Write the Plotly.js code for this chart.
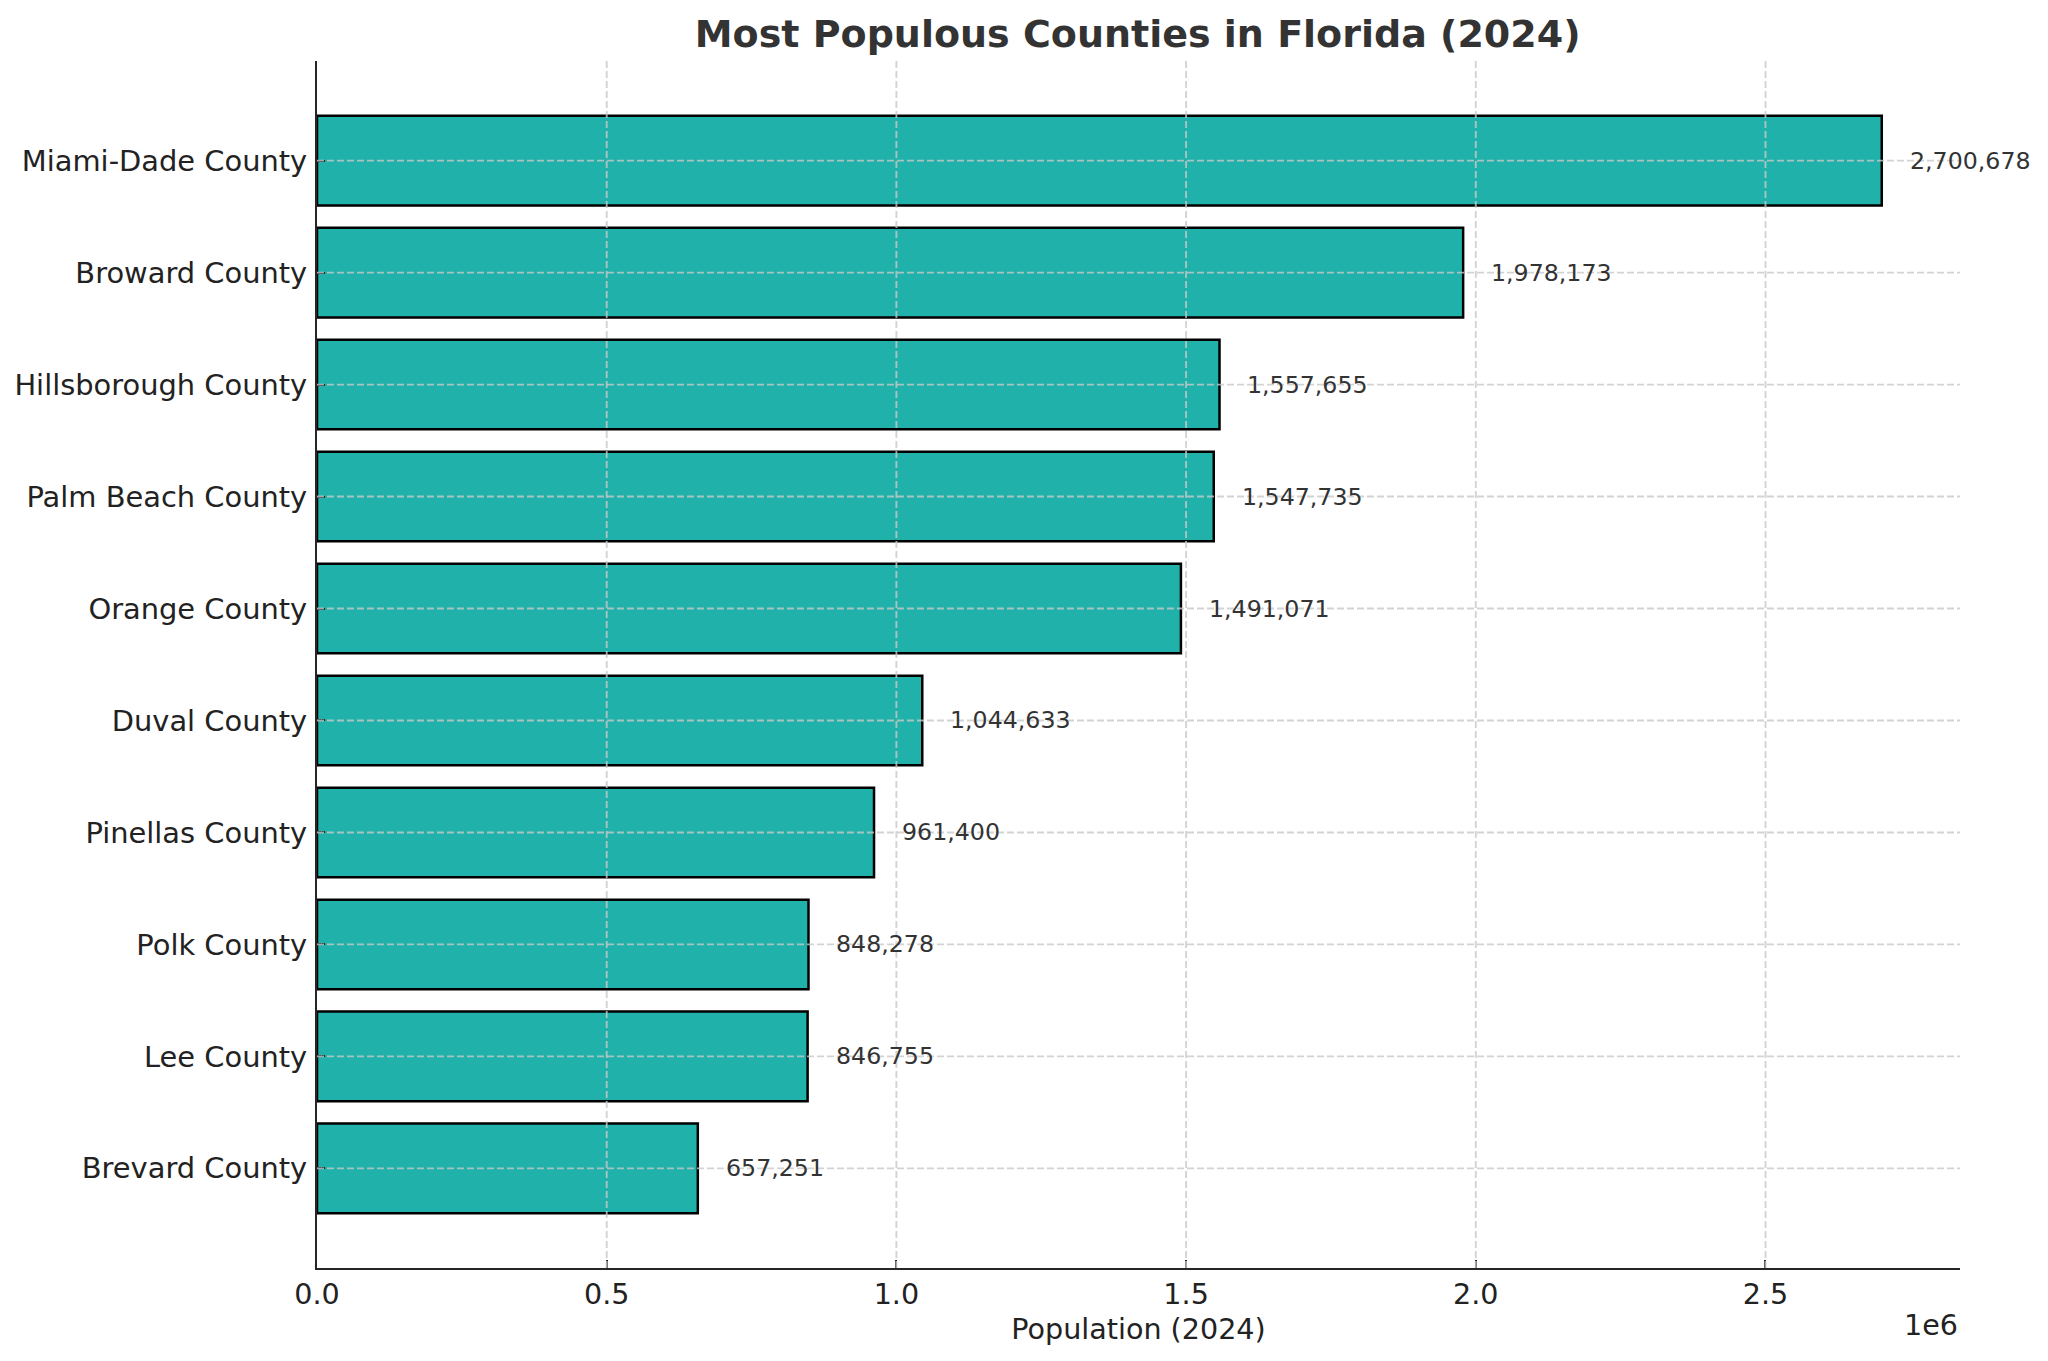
<!DOCTYPE html>
<html>
<head>
<meta charset="utf-8">
<script src="https://cdn.plot.ly/plotly-3.0.1.min.js"></script>
<style>html,body{margin:0;padding:0;background:#fff;}#chart{width:2048px;height:1361px;}</style>
</head>
<body>
<div id="chart"></div>
<script>
// Data
const counties = ["Miami-Dade County","Broward County","Hillsborough County","Palm Beach County","Orange County","Duval County","Pinellas County","Polk County","Lee County","Brevard County"];
const population = [2700678,1978173,1557655,1547735,1491071,1044633,961400,848278,846755,657251];
const xTickVals = [0,500000,1000000,1500000,2000000,2500000];
const xTickText = ["0.0","0.5","1.0","1.5","2.0","2.5"];
const titleText = "Most Populous Counties in Florida (2024)";
const xTitleText = "Population (2024)";
const offsetText = "1e6";

const FONT = "DejaVu Sans, Verdana, sans-serif";
const labelOffset = 50000;
const xMax = Math.max(...population) * 1.05;
const n = counties.length;

const trace = {
  type: 'bar',
  orientation: 'h',
  x: population,
  y: counties,
  width: 0.8,
  marker: {color: '#20B2AA', line: {color: '#000000', width: 2.5}},
  hoverinfo: 'x+y'
};

const gridColor = 'rgba(200,200,200,0.8)';
const gridStyle = {color: gridColor, width: 1.9, dash: '7px,3px'};
const shapes = [];
xTickVals.forEach(v => {
  if (v === 0) return;
  shapes.push({type:'line', xref:'x', yref:'paper', x0:v, x1:v, y0:0, y1:1, layer:'above', line: gridStyle});
});
counties.forEach(c => {
  shapes.push({type:'line', xref:'paper', yref:'y', x0:0, x1:1, y0:c, y1:c, layer:'above', line: gridStyle});
});

const annotations = counties.map((c, i) => ({
  x: population[i] + labelOffset,
  y: c,
  xref: 'x', yref: 'y',
  text: population[i].toLocaleString('en-US'),
  showarrow: false,
  xanchor: 'left', yanchor: 'middle',
  xshift: -3,
  font: {family: FONT, size: 23.7, color: '#333333'}
}));
annotations.push({
  x: 1, y: 0, xref: 'paper', yref: 'paper',
  xanchor: 'right', yanchor: 'middle', yshift: -57,
  text: offsetText, showarrow: false,
  font: {family: FONT, size: 28.6, color: '#222222'}
});

const layout = {
  width: 2048, height: 1361,
  margin: {l: 317, r: 88, t: 61, b: 93, pad: 0},
  paper_bgcolor: '#ffffff', plot_bgcolor: '#ffffff',
  showlegend: false,
  bargap: 0.2,
  title: {
    text: '<b>' + titleText + '</b>',
    x: 0.5555, xanchor: 'center', y: 1 - 34/1361, yanchor: 'middle',
    font: {family: FONT, size: 38, color: '#333333'}
  },
  xaxis: {
    range: [0, xMax],
    tickvals: xTickVals, ticktext: xTickText,
    showgrid: false, zeroline: false,
    showline: true, linecolor: '#262626', linewidth: 2,
    ticks: 'inside', ticklen: 8, tickwidth: 2, tickcolor: '#262626',
    tickfont: {family: FONT, size: 28.6, color: '#222222'},
    title: {text: xTitleText, standoff: 9, font: {family: FONT, size: 28.6, color: '#222222'}},
    fixedrange: true
  },
  yaxis: {
    type: 'category',
    range: [n - 1 + 0.89, -0.89],
    showgrid: false, zeroline: false,
    showline: true, linecolor: '#262626', linewidth: 2,
    ticks: 'inside', ticklen: 8, tickwidth: 2, tickcolor: '#262626',
    tickfont: {family: FONT, size: 28.9, color: '#222222'},
    ticklabelstandoff: 2,
    fixedrange: true
  },
  shapes: shapes,
  annotations: annotations
};

Plotly.newPlot('chart', [trace], layout, {displayModeBar: false, staticPlot: true});
</script>
</body>
</html>
